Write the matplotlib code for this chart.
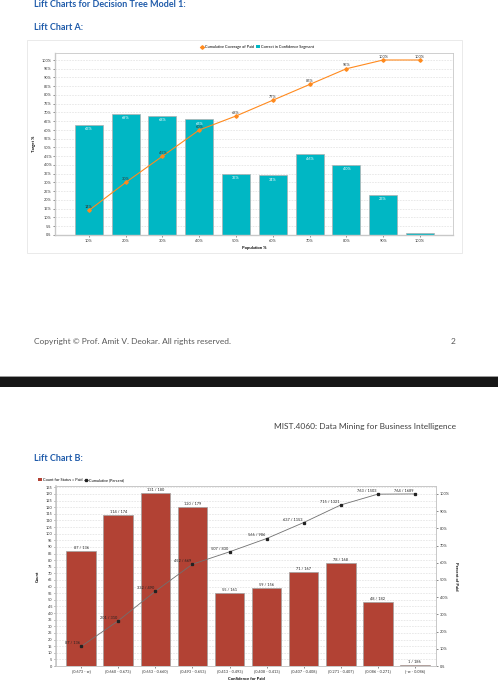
import matplotlib
matplotlib.use("Agg")
import matplotlib.pyplot as plt
from matplotlib.patches import Rectangle
from matplotlib.lines import Line2D
import numpy as np

W, H = 498, 687

# ---------- data ----------
pop_labels = ["10%", "20%", "30%", "40%", "50%", "60%", "70%", "80%", "90%", "100%"]
correct_pct = [63, 69, 68, 66, 35, 34, 46, 40, 23, 1]
cum_coverage = [14, 30, 45, 60, 68, 77, 86, 95, 100, 100]

conf_labels = ["[0.673 - ∞]", "[0.660 - 0.673]", "[0.653 - 0.660]", "[0.493 - 0.653]",
               "[0.413 - 0.493]", "[0.408 - 0.413]", "[0.407 - 0.408]", "[0.271 - 0.407]",
               "[0.086 - 0.271]", "[-∞ - 0.086]"]
paid_count = [87, 114, 131, 120, 55, 59, 71, 78, 48, 1]
seg_total = [136, 174, 180, 179, 161, 156, 167, 168, 182, 186]

plt.rcParams['font.family'] = ['Lato', 'DejaVu Sans']

fig = plt.figure(figsize=(W / 100, H / 100), dpi=100)
fig.patch.set_facecolor("white")

def fx(x):
    return x / W

def fy(y):
    return 1 - y / H

def ax_rect(l, t, r, b):
    return [fx(l), fy(b), (r - l) / W, (b - t) / H]

BLUE = "#1F5BAA"
TEAL = "#00B7C4"
ORANGE = "#FF8A1E"
RED = "#B24234"
GRID = "#D9D9D9"

# ---------- page text ----------
fig.text(fx(34), fy(7), "Lift Charts for Decision Tree Model 1:", color=BLUE,
         fontsize=6.5, fontweight="bold", va="baseline", ha="left")
fig.text(fx(34), fy(30), "Lift Chart A:", color=BLUE,
         fontsize=6.5, fontweight="bold", va="baseline", ha="left")

# chart A outer frame
fig.patches.append(Rectangle((fx(27), fy(253)), (462 - 27) / W, (253 - 40) / H,
                             transform=fig.transFigure, fill=False,
                             edgecolor="#E6E6E6", linewidth=0.6))

# ---------- chart A ----------
axA = fig.add_axes(ax_rect(55, 53, 453, 235))
xa = np.arange(1, len(pop_labels) + 1)
axA.bar(xa, correct_pct, width=0.76, color=TEAL, edgecolor="#B0B0B0",
        linewidth=0.5, zorder=2)
for x, v in zip(xa, correct_pct):
    if v > 5:
        axA.text(x, v - 1.2, f"{v}%", color="white", fontsize=2.8,
                 ha="center", va="top", zorder=4)
axA.plot(xa, cum_coverage, color=ORANGE, linewidth=0.8, marker="D",
         markersize=1.8, zorder=3)
for x, v in zip(xa, cum_coverage):
    axA.text(x, v + 0.8, f"{v}%", color="#333333", fontsize=2.8,
             ha="center", va="bottom", zorder=4)
axA.set_xlim(0.08, 10.9)
axA.set_ylim(0, 104)
axA.set_yticks(np.arange(0, 101, 5))
axA.set_yticklabels([f"{t}%" for t in range(0, 101, 5)])
axA.set_xticks(xa)
axA.set_xticklabels(pop_labels)
axA.tick_params(labelsize=2.8, length=1.2, width=0.4, pad=1.5, colors="#333333")
axA.yaxis.grid(True, color=GRID, linestyle=(0, (3, 2)), linewidth=0.4)
axA.set_axisbelow(True)
for s in axA.spines.values():
    s.set_color("#C8C8C8")
    s.set_linewidth(0.6)
axA.spines["left"].set_linewidth(1.0)
axA.spines["bottom"].set_linewidth(1.0)
axA.set_ylabel("Target %", fontsize=3, fontweight="bold", labelpad=4)
axA.set_xlabel("Population %", fontsize=3, fontweight="bold", labelpad=2)

legA = [Line2D([0], [0], color=ORANGE, marker="D", markersize=1.8, linewidth=0.8,
               label="Cumulative Coverage of Paid"),
        Rectangle((0, 0), 1, 1, facecolor=TEAL, edgecolor="none",
                  label="Correct in Confidence Segment")]
fig.legend(handles=legA, loc="center", bbox_to_anchor=(fx(257), fy(47)), ncol=2,
           fontsize=2.8, frameon=False, handlelength=1.0, handleheight=0.7,
           columnspacing=0.4, handletextpad=0.3, borderpad=0)

# ---------- footer / page break ----------
fig.text(fx(34), fy(344), "Copyright © Prof. Amit V. Deokar. All rights reserved.",
         color="#595959", fontsize=6.0, va="baseline", ha="left")
fig.text(fx(456), fy(344), "2", color="#595959", fontsize=6.0, va="baseline", ha="right")
fig.patches.append(Rectangle((0, fy(387)), 1, 10 / H, transform=fig.transFigure,
                             facecolor="#161616", edgecolor="none"))
fig.patches.append(Rectangle((0, fy(377)), 1, 1 / H, transform=fig.transFigure,
                             facecolor="#9A9A9A", edgecolor="none"))
fig.text(fx(456), fy(429), "MIST.4060: Data Mining for Business Intelligence",
         color="#404040", fontsize=6.0, va="baseline", ha="right")
fig.text(fx(34), fy(461), "Lift Chart B:", color=BLUE,
         fontsize=6.5, fontweight="bold", va="baseline", ha="left")

# ---------- chart B ----------
axB = fig.add_axes(ax_rect(56, 486, 436, 666))
xb = np.arange(1, len(conf_labels) + 1)
axB.bar(xb, paid_count, width=0.8, color=RED, edgecolor="#A0A0A0",
        linewidth=0.5, zorder=2)
for x, c, t in zip(xb, paid_count, seg_total):
    axB.text(x, c + 0.8, f"{c} / {t}", color="#222222", fontsize=2.8,
             ha="center", va="bottom", zorder=4)

cum_paid = np.cumsum(paid_count)
cum_total = np.cumsum(seg_total)
total_paid = cum_paid[-1]
axB2 = axB.twinx()
cum_pct = cum_paid / total_paid * 100
axB2.plot(xb, cum_pct, color="#707070", linewidth=0.6, marker="s",
          markersize=1.4, markerfacecolor="#222222", markeredgecolor="#222222",
          zorder=3)
for x, p, cp, ct in zip(xb, cum_pct, cum_paid, cum_total):
    axB2.text(x - 0.04, p + 0.6, f"{cp} / {ct}", color="#222222", fontsize=2.8,
              ha="right", va="bottom", zorder=4)

axB.set_xlim(0.32, 10.57)
axB.set_ylim(0, 136)
axB2.set_ylim(0, 136 / 130 * 100)
axB.set_yticks(np.arange(0, 136, 5))
axB2.set_yticks(np.arange(0, 101, 10))
axB2.set_yticklabels([f"{t}%" for t in range(0, 101, 10)])
axB.set_xticks(xb)
axB.set_xticklabels(conf_labels)
for a in (axB, axB2):
    a.tick_params(labelsize=2.8, length=1.2, width=0.4, pad=1.5, colors="#333333")
axB.yaxis.grid(True, color=GRID, linestyle=(0, (3, 2)), linewidth=0.4)
axB.set_axisbelow(True)
for a in (axB, axB2):
    for s in a.spines.values():
        s.set_color("#C8C8C8")
        s.set_linewidth(0.6)
axB.spines["left"].set_linewidth(1.2)
axB.set_ylabel("Count", fontsize=3, fontweight="bold", labelpad=4)
axB2.set_ylabel("Percent of Paid", fontsize=3, fontweight="bold", labelpad=3,
                rotation=270, va="bottom")
axB.set_xlabel("Confidence for Paid", fontsize=3, fontweight="bold", labelpad=2)

legB = [Rectangle((0, 0), 1, 1, facecolor=RED, edgecolor="none",
                  label="Count for Status = Paid"),
        Line2D([0], [0], color="#707070", marker="s", markersize=1.4,
               markerfacecolor="#222222", markeredgecolor="#222222", linewidth=0.6,
               label="Cumulative (Percent)")]
fig.legend(handles=legB, loc="center left", bbox_to_anchor=(fx(36), fy(480)), ncol=2,
           fontsize=2.8, frameon=False, handlelength=1.0, handleheight=0.7,
           columnspacing=0.4, handletextpad=0.3, borderpad=0)

fig.savefig("out.png", dpi=100, facecolor="white")
